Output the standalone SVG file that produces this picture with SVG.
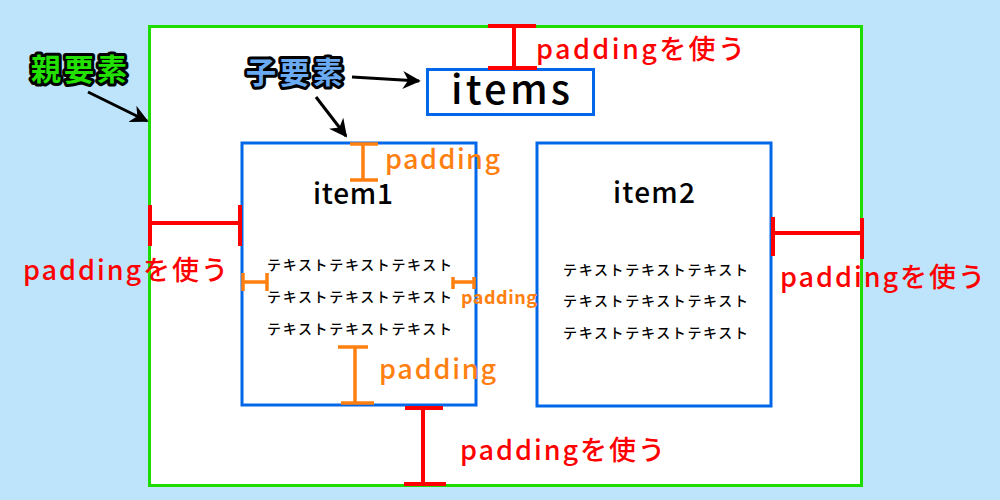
<svg xmlns="http://www.w3.org/2000/svg" width="1000" height="500" viewBox="0 0 1000 500">
<style>
text{font-family:"Noto Sans CJK JP","Noto Sans",sans-serif}
.box{fill:#fff;stroke:#0068E8;stroke-width:3}
.red{stroke:#FF0000;stroke-width:4;fill:none}
.org{stroke:#FF8010;stroke-width:3.5;fill:none}
.rt{fill:#FF0000;font-size:27px;font-weight:500}
.ot{fill:#FF8010;font-size:27px;font-weight:500}
.ots{fill:#FF8010;font-size:18px;font-weight:700}
.jt{fill:#000;font-size:14px;font-weight:500}
.lbl{font-size:30px;font-weight:700;stroke:#000;stroke-width:6;stroke-linejoin:round;paint-order:stroke}
.arr{stroke:#000;stroke-width:3;fill:none;marker-end:url(#ah)}
</style>
<defs>
<marker id="ah" viewBox="0 0 10 10" refX="9" refY="5" markerWidth="6" markerHeight="6" orient="auto" markerUnits="strokeWidth">
<path d="M0,0 L10,5 L0,10 L3,5 z" fill="#000"/>
</marker>
</defs>
<rect x="0" y="0" width="1000" height="500" fill="#BDE4FA"/>
<g id="parent">
<rect x="149.5" y="26.5" width="712" height="459" fill="#fff" stroke="#1EDC00" stroke-width="3"/>
</g>
<g id="items">
<rect class="box" x="427.5" y="69.5" width="166" height="45"/>
<text x="451" y="104" font-size="40" font-weight="500" textLength="119" lengthAdjust="spacing">items</text>
</g>
<g id="item1">
<rect class="box" x="242" y="143" width="234" height="262"/>
<text x="313" y="204" font-size="28" font-weight="500" textLength="80" lengthAdjust="spacing">item1</text>
<text class="jt" x="267" y="270" textLength="185" lengthAdjust="spacing">テキストテキストテキスト</text>
<text class="jt" x="267" y="302" textLength="185" lengthAdjust="spacing">テキストテキストテキスト</text>
<text class="jt" x="267" y="334" textLength="185" lengthAdjust="spacing">テキストテキストテキスト</text>
</g>
<g id="item2">
<rect class="box" x="537" y="143" width="234" height="263"/>
<text x="613" y="203" font-size="28" font-weight="500" textLength="82" lengthAdjust="spacing">item2</text>
<text class="jt" x="563" y="275" textLength="185" lengthAdjust="spacing">テキストテキストテキスト</text>
<text class="jt" x="563" y="306" textLength="185" lengthAdjust="spacing">テキストテキストテキスト</text>
<text class="jt" x="563" y="338" textLength="185" lengthAdjust="spacing">テキストテキストテキスト</text>
</g>
<g id="padding-markers">
<path class="red" d="M514,26V68M488,26H536M488,68H537"/>
<text class="rt" x="536" y="59" textLength="209" lengthAdjust="spacing">paddingを使う</text>
<path class="red" d="M150,223H240M150,205V246M240,205V246"/>
<text class="rt" x="23" y="280" textLength="205" lengthAdjust="spacing">paddingを使う</text>
<path class="red" d="M773,233H862M773,217V256M862,218V259"/>
<text class="rt" x="780" y="287" textLength="205" lengthAdjust="spacing">paddingを使う</text>
<path class="red" d="M423,408V484M405,408H443M404,484H446"/>
<text class="rt" x="460" y="460" textLength="205" lengthAdjust="spacing">paddingを使う</text>
<path class="org" d="M363,144V180M350,144H378M350,180H378"/>
<text class="ot" x="385" y="169" textLength="115" lengthAdjust="spacing">padding</text>
<path class="org" d="M243,282H267M243,273V291M267,273V291"/>
<path class="org" d="M453,282H474M453,277V289M474,277V289"/>
<text class="ots" x="461" y="304" textLength="76" lengthAdjust="spacing">padding</text>
<path class="org" d="M355,347V403M338,347H368M341,403H374"/>
<text class="ot" x="379" y="379" textLength="117" lengthAdjust="spacing">padding</text>
</g>
<g id="labels">
<text class="lbl" x="31" y="80" fill="#22E000" textLength="96" lengthAdjust="spacing">親要素</text>
<text class="lbl" x="246" y="83" fill="#6AAAF2" textLength="97" lengthAdjust="spacing">子要素</text>
</g>
<g id="connectors">
<path class="arr" d="M88,92L147,121"/>
<path class="arr" d="M352,77L419,81"/>
<path class="arr" d="M316,97L346,136"/>
</g>
</svg>
